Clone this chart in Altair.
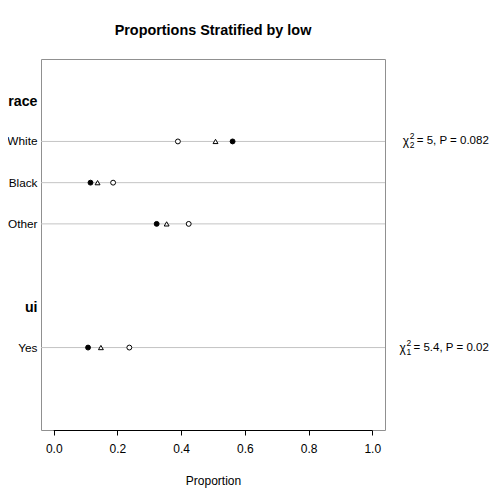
import altair as alt
import pandas as pd

# ---- data ----
groups = ["race", "ui"]
group_levels = {"race": ["White", "Black", "Other"], "ui": ["Yes"]}
categories = ["White", "Black", "Other", "Yes"]
prop_low0 = [0.5615, 0.1154, 0.3231, 0.1077]     # filled dot
prop_low1 = [0.3898, 0.1864, 0.4237, 0.2373]     # open circle
prop_all = [0.5079, 0.1376, 0.3545, 0.1481]      # open triangle
chi_stat = ["5", "5.4"]
chi_df = ["2", "1"]
chi_p = ["0.082", "0.02"]

# ---- layout ----
W, H = 344, 371
FONT = "Liberation Sans"
STAT_FS = 11.5

row_of = {}
header_rows = []
r = 0
for gi, g in enumerate(groups):
    if gi > 0:
        r += 1
    header_rows.append((g, r))
    r += 1
    for lev in group_levels[g]:
        row_of[lev] = r
        r += 1

pts = []
for i, c in enumerate(categories):
    pts.append({"cat": c, "row": row_of[c], "p": prop_low0[i], "s": "low0"})
    pts.append({"cat": c, "row": row_of[c], "p": prop_low1[i], "s": "low1"})
    pts.append({"cat": c, "row": row_of[c], "p": prop_all[i], "s": "all"})
pts = pd.DataFrame(pts)

rows_df = pd.DataFrame({"cat": categories, "row": [row_of[c] for c in categories]})
head_df = pd.DataFrame({"g": [h[0] for h in header_rows], "row": [h[1] for h in header_rows]})

cw = {"=": 0.584, " ": 0.278, ",": 0.278, ".": 0.278, "P": 0.667}
def est_w(s, size):
    return sum(cw.get(ch, 0.556) for ch in s) * size

stat_rows = []
for gi, g in enumerate(groups):
    rest = f"= {chi_stat[gi]}, P = {chi_p[gi]}"
    right = 448
    rest_x = right - est_w(rest, STAT_FS)
    stat_rows.append({"row": row_of[group_levels[g][0]], "rest": rest,
                      "df": chi_df[gi], "rx": rest_x, "cx": rest_x - 14,
                      "sx": rest_x - 7})
stat_df = pd.DataFrame(stat_rows)

yscale = alt.Scale(domain=[-1, 8], reverse=True)
xscale = alt.Scale(domain=[-0.04, 1.04], nice=False)

grid = alt.Chart(rows_df).mark_rule(color="#c4c4c4", strokeWidth=1).encode(
    y=alt.Y("row:Q", scale=yscale, axis=None),
    x=alt.value(0), x2=alt.value(W),
)

points = alt.Chart(pts).mark_point(strokeWidth=1, opacity=1).encode(
    x=alt.X("p:Q", scale=xscale,
            axis=alt.Axis(values=[0, 0.2, 0.4, 0.6, 0.8, 1.0], format=".1f",
                          title="Proportion", domain=False, grid=False,
                          tickColor="black", tickSize=5, labelPadding=8,
                          labelFontSize=12, labelFont=FONT, labelColor="black",
                          titleFont=FONT, titleFontSize=12, titleFontWeight="normal",
                          titleColor="black", titlePadding=21)),
    y=alt.Y("row:Q", scale=yscale, axis=None),
    shape=alt.Shape("s:N", scale=alt.Scale(domain=["low0", "low1", "all"],
                                           range=["circle", "circle", "triangle-up"]),
                    legend=None),
    size=alt.Size("s:N", scale=alt.Scale(domain=["low0", "low1", "all"], range=[24, 24, 46]),
                  legend=None),
    fill=alt.Fill("s:N", scale=alt.Scale(domain=["low0", "low1", "all"],
                                         range=["black", "white", "white"]), legend=None),
    stroke=alt.value("black"),
)

axis_line = alt.Chart(pd.DataFrame({"a": [0], "b": [1]})).mark_rule(color="black", strokeWidth=1).encode(
    x=alt.X("a:Q", scale=xscale), x2="b:Q", y=alt.value(H + 0.5),
)

row_labels = alt.Chart(rows_df).mark_text(align="right", baseline="middle", font=FONT,
                                         fontSize=11.8, color="black").encode(
    y=alt.Y("row:Q", scale=yscale), x=alt.value(-3.5), text="cat:N",
)

head_labels = alt.Chart(head_df).mark_text(align="right", baseline="middle", font=FONT,
                                          fontSize=14.2, fontWeight="bold", color="black",
                                          dy=2).encode(
    y=alt.Y("row:Q", scale=yscale), x=alt.value(-3.5), text="g:N",
)

chi = alt.Chart(stat_df).mark_text(align="left", baseline="middle", font=FONT,
                                  fontSize=12, color="black", text="χ").encode(
    y=alt.Y("row:Q", scale=yscale), x=alt.X("cx:Q", scale=None),
)
sup = alt.Chart(stat_df).mark_text(align="left", baseline="middle", font=FONT,
                                  fontSize=8.5, color="black", text="2", dy=-5).encode(
    y=alt.Y("row:Q", scale=yscale), x=alt.X("sx:Q", scale=None),
)
sub = alt.Chart(stat_df).mark_text(align="left", baseline="middle", font=FONT,
                                  fontSize=8.5, color="black", dy=4).encode(
    y=alt.Y("row:Q", scale=yscale), x=alt.X("sx:Q", scale=None), text="df:N",
)
rest = alt.Chart(stat_df).mark_text(align="left", baseline="middle", font=FONT,
                                   fontSize=STAT_FS, color="black").encode(
    y=alt.Y("row:Q", scale=yscale), x=alt.X("rx:Q", scale=None), text="rest:N",
)

chart = alt.layer(grid, axis_line, points, row_labels, head_labels, chi, sup, sub, rest).properties(
    width=W, height=H,
    background="white",
    title=alt.TitleParams("Proportions Stratified by low", font=FONT, fontSize=14.4,
                          fontWeight="bold", color="black", anchor="middle",
                          baseline="bottom", offset=7),
    autosize=alt.AutoSizeParams(type="none"),
    padding={"left": 33, "top": 51, "right": 110, "bottom": 66},
).configure_view(stroke="#909090", strokeWidth=1)

chart.save("out.html", embed_options={"renderer": "svg", "actions": False})
